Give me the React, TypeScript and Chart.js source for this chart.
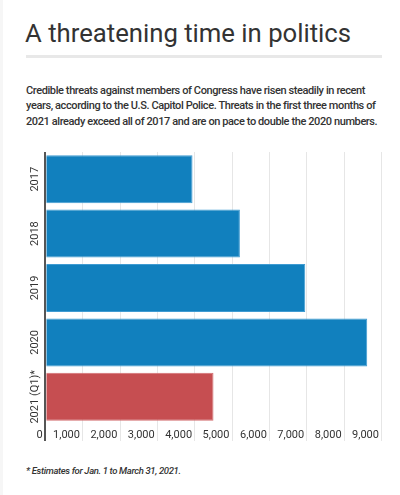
import React, { useEffect, useRef } from "react";
import { Chart, registerables } from "chart.js";

Chart.register(...registerables);

const categories: string[] = ["2017", "2018", "2019", "2020", "2021 (Q1)*"];
const threats: number[] = [3939, 5206, 6955, 8613, 4500];
const barColors: string[] = ["#1180be", "#1180be", "#1180be", "#1180be", "#c64e51"];
const barBorders: string[] = ["#3f9bd2", "#3f9bd2", "#3f9bd2", "#3f9bd2", "#d36e70"];
const xTickMin = 0;
const xTickMax = 9000;
const xTickStep = 1000;

const TITLE = "A threatening time in politics";
const SUBTITLE_LINES: string[] = [
  "Credible threats against members of Congress have risen steadily in recent",
  "years, according to the U.S. Capitol Police. Threats in the first three months of",
  "2021 already exceed all of 2017 and are on pace to double the 2020 numbers.",
];
const FOOTNOTE = "* Estimates for Jan. 1 to March 31, 2021.";

const FONT = "Roboto, 'Noto Sans', Arial, sans-serif";

export default function App() {
  const canvasRef = useRef<HTMLCanvasElement | null>(null);

  useEffect(() => {
    document.body.style.margin = "0";
    const canvas = canvasRef.current;
    if (!canvas) return;
    const chart = new Chart(canvas, {
      type: "bar",
      data: {
        labels: categories,
        datasets: [
          {
            data: threats,
            backgroundColor: barColors,
            borderColor: barBorders,
            borderWidth: 1,
            barPercentage: 0.882,
            categoryPercentage: 1,
          },
        ],
      },
      options: {
        indexAxis: "y",
        responsive: false,
        animation: false,
        devicePixelRatio: 1,
        layout: { padding: { top: 12, right: 18.3, left: 0, bottom: 0 } },
        plugins: {
          legend: { display: false },
          tooltip: { enabled: false },
          title: { display: false },
        },
        scales: {
          x: {
            type: "linear",
            position: "bottom",
            min: xTickMin,
            max: xTickMax,
            border: { display: false },
            grid: {
              drawTicks: true,
              tickLength: 17,
              color: (ctx: any) => (ctx.index === 0 ? "#555555" : "#e6e6e6"),
              lineWidth: (ctx: any) => (ctx.index === 0 ? 2 : 1),
            },
            ticks: {
              stepSize: xTickStep,
              align: "end",
              padding: -12.6,
              maxRotation: 0,
              minRotation: 0,
              autoSkip: false,
              color: "#333333",
              font: { family: FONT, size: 11 },
              callback: (v: any) => Number(v).toLocaleString("en-US") + " ",
            },
            afterFit: (scale: any) => {
              scale.height = 26;
            },
          },
          y: {
            type: "category",
            position: "left",
            border: { display: false },
            grid: { display: false, drawTicks: false },
            ticks: {
              minRotation: 90,
              maxRotation: 90,
              autoSkip: false,
              crossAlign: "center",
              padding: -17,
              color: "#333333",
              font: { family: FONT, size: 11 },
            },
            afterFit: (scale: any) => {
              scale.width = 45.3;
            },
          },
        },
      },
    });
    return () => chart.destroy();
  }, []);

  return (
    <div
      style={{
        position: "absolute",
        left: 0,
        top: 0,
        width: 400,
        height: 495,
        background: "#ffffff",
        overflow: "hidden",
        fontFamily: FONT,
        color: "#333333",
      }}
    >
      <div style={{ position: "absolute", left: 0, top: 0, width: 3, height: 495, background: "#f6f6f6" }} />
      <div
        style={{
          position: "absolute",
          left: 25,
          top: 17.5,
          fontSize: 25.7,
          lineHeight: "30px",
          whiteSpace: "nowrap",
          color: "#333333",
        }}
      >
        {TITLE}
      </div>
      <div style={{ position: "absolute", left: 26, top: 55, width: 356, height: 3, background: "#e8e8e8" }} />
      <div
        style={{
          position: "absolute",
          left: 26,
          top: 82.8,
          fontSize: 11,
          fontWeight: 500,
          letterSpacing: "-0.4px",
          lineHeight: "15.5px",
          whiteSpace: "nowrap",
          color: "#333333",
        }}
      >
        {SUBTITLE_LINES.map((l, i) => (
          <div key={i}>{l}</div>
        ))}
      </div>
      <canvas
        ref={canvasRef}
        width={400}
        height={310}
        style={{ position: "absolute", left: 0, top: 140, width: 400, height: 310 }}
      />
      <div
        style={{
          position: "absolute",
          left: 26,
          top: 464.8,
          fontSize: 9.5,
          fontWeight: 500,
          letterSpacing: "-0.35px",
          lineHeight: "12px",
          fontStyle: "italic",
          whiteSpace: "nowrap",
          color: "#333333",
        }}
      >
        {FOOTNOTE}
      </div>
    </div>
  );
}
